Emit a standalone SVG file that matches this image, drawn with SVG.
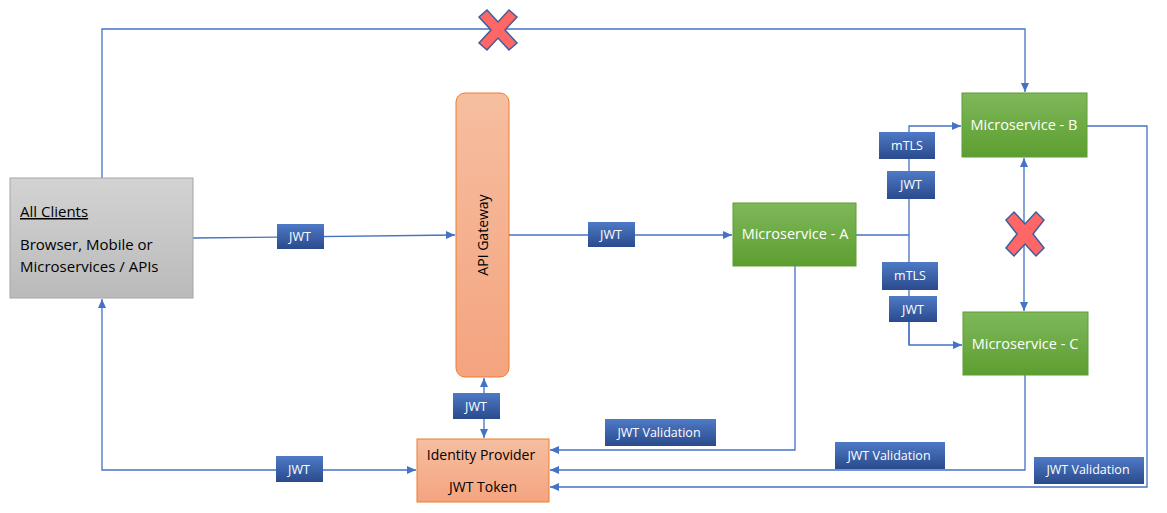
<svg xmlns="http://www.w3.org/2000/svg" width="1167" height="513" viewBox="0 0 1167 513">
<style>
text{font-family:"Open Sans","Liberation Sans",sans-serif;}
.c{fill:none;stroke:#4472C4;stroke-width:1.3}
.lb{fill:url(#gb)}
.lt{fill:#fff;font-size:12.5px;text-anchor:middle}
.ms{fill:url(#gg);stroke:#5E9E34;stroke-width:1}
.mt{fill:#fff;font-size:14.5px;text-anchor:middle}
.x{fill:#FF6666;stroke:#3F5E9E;stroke-width:1.5}
</style>
<defs>
<linearGradient id="gb" x1="0" y1="0" x2="0" y2="1"><stop offset="0" stop-color="#4E7AC6"/><stop offset="1" stop-color="#2A4A8C"/></linearGradient>
<linearGradient id="gg" x1="0" y1="0" x2="0" y2="1"><stop offset="0" stop-color="#7EB85A"/><stop offset="1" stop-color="#5D9E30"/></linearGradient>
<linearGradient id="go" x1="0" y1="0" x2="0" y2="1"><stop offset="0" stop-color="#F6BEA0"/><stop offset="1" stop-color="#F4A47F"/></linearGradient>
<linearGradient id="gr" x1="0" y1="0" x2="0" y2="1"><stop offset="0" stop-color="#D3D3D3"/><stop offset="1" stop-color="#BABABA"/></linearGradient>
<marker id="a" markerWidth="10" markerHeight="10" refX="9" refY="5" orient="auto-start-reverse" markerUnits="userSpaceOnUse"><path d="M0,1 L9,5 L0,9 Z" fill="#4472C4"/></marker>
</defs>
<g id="connectors">
<path class="c" d="M102,178 V29 H1025 V92" marker-end="url(#a)"/>
<path class="c" d="M193,238 L455,235" marker-end="url(#a)"/>
<path class="c" d="M509,235 H732" marker-end="url(#a)"/>
<path class="c" d="M856,235 H909"/>
<path class="c" d="M909,345 V126 H961" marker-end="url(#a)"/>
<path class="c" d="M909,300 V345 H962" marker-end="url(#a)"/>
<path class="c" d="M1024,158 V311" marker-start="url(#a)" marker-end="url(#a)"/>
<path class="c" d="M484,378 V438" marker-start="url(#a)" marker-end="url(#a)"/>
<path class="c" d="M102,299 V470 H416" marker-start="url(#a)" marker-end="url(#a)"/>
<path class="c" d="M795,266 V450 H550" marker-end="url(#a)"/>
<path class="c" d="M1025,375 V470 H550" marker-end="url(#a)"/>
<path class="c" d="M1087,126 H1147 V487 H550" marker-end="url(#a)"/>
</g>
<g id="clients">
<rect x="10" y="178" width="183" height="120" fill="url(#gr)" stroke="#A5A5A5"/>
<text x="20" y="217" font-size="15" fill="#000" text-decoration="underline">All Clients</text>
<text x="20" y="250" font-size="15" fill="#000">Browser, Mobile or</text>
<text x="20" y="272" font-size="15" fill="#000">Microservices / APIs</text>
</g>
<g id="gateway">
<rect x="456" y="93" width="53" height="284" rx="9" fill="url(#go)" stroke="#ED7D31"/>
<text transform="translate(488,235) rotate(-90)" font-size="14" text-anchor="middle" fill="#000">API Gateway</text>
</g>
<g id="idp">
<rect x="417" y="439" width="132" height="63" fill="url(#go)" stroke="#ED7D31"/>
<text x="481" y="460" font-size="14" text-anchor="middle" fill="#000">Identity Provider</text>
<text x="483" y="492" font-size="14" text-anchor="middle" fill="#000">JWT Token</text>
</g>
<g id="msa"><rect class="ms" x="733" y="203" width="123" height="63"/><text class="mt" x="795" y="239">Microservice - A</text></g>
<g id="msb"><rect class="ms" x="962" y="93" width="125" height="64"/><text class="mt" x="1024" y="130">Microservice - B</text></g>
<g id="msc"><rect class="ms" x="963" y="312" width="125" height="63"/><text class="mt" x="1025" y="349">Microservice - C</text></g>
<g id="labels">
<rect class="lb" x="277" y="224" width="47" height="25"/><text class="lt" x="300" y="241">JWT</text>
<rect class="lb" x="588" y="222" width="47" height="25"/><text class="lt" x="611" y="239">JWT</text>
<rect class="lb" x="453" y="393" width="47" height="26"/><text class="lt" x="476" y="411">JWT</text>
<rect class="lb" x="276" y="456" width="47" height="26"/><text class="lt" x="299" y="474">JWT</text>
<rect class="lb" x="879" y="132" width="56" height="27"/><text class="lt" x="907" y="150">mTLS</text>
<rect class="lb" x="887" y="171" width="48" height="28"/><text class="lt" x="911" y="189">JWT</text>
<rect class="lb" x="882" y="262" width="56" height="28"/><text class="lt" x="910" y="280">mTLS</text>
<rect class="lb" x="889" y="296" width="48" height="26"/><text class="lt" x="913" y="314">JWT</text>
<rect class="lb" x="605" y="419" width="111" height="27"/><text class="lt" x="659" y="437">JWT Validation</text>
<rect class="lb" x="835" y="442" width="110" height="27"/><text class="lt" x="889" y="460">JWT Validation</text>
<rect class="lb" x="1034" y="457" width="110" height="27"/><text class="lt" x="1088" y="474">JWT Validation</text>
</g>
<g id="xmarks">
<path class="x" transform="translate(498,30)" d="M-11,-20 L0,-8 L11,-20 L19,-13 L7,0 L19,13 L11,20 L0,8 L-11,20 L-19,13 L-7,0 L-19,-13 Z"/>
<path class="x" transform="translate(1025,234)" d="M-11,-22 L0,-10 L11,-22 L19,-14 L8,0 L19,14 L11,22 L0,10 L-11,22 L-19,14 L-8,0 L-19,-14 Z"/>
</g>
</svg>
